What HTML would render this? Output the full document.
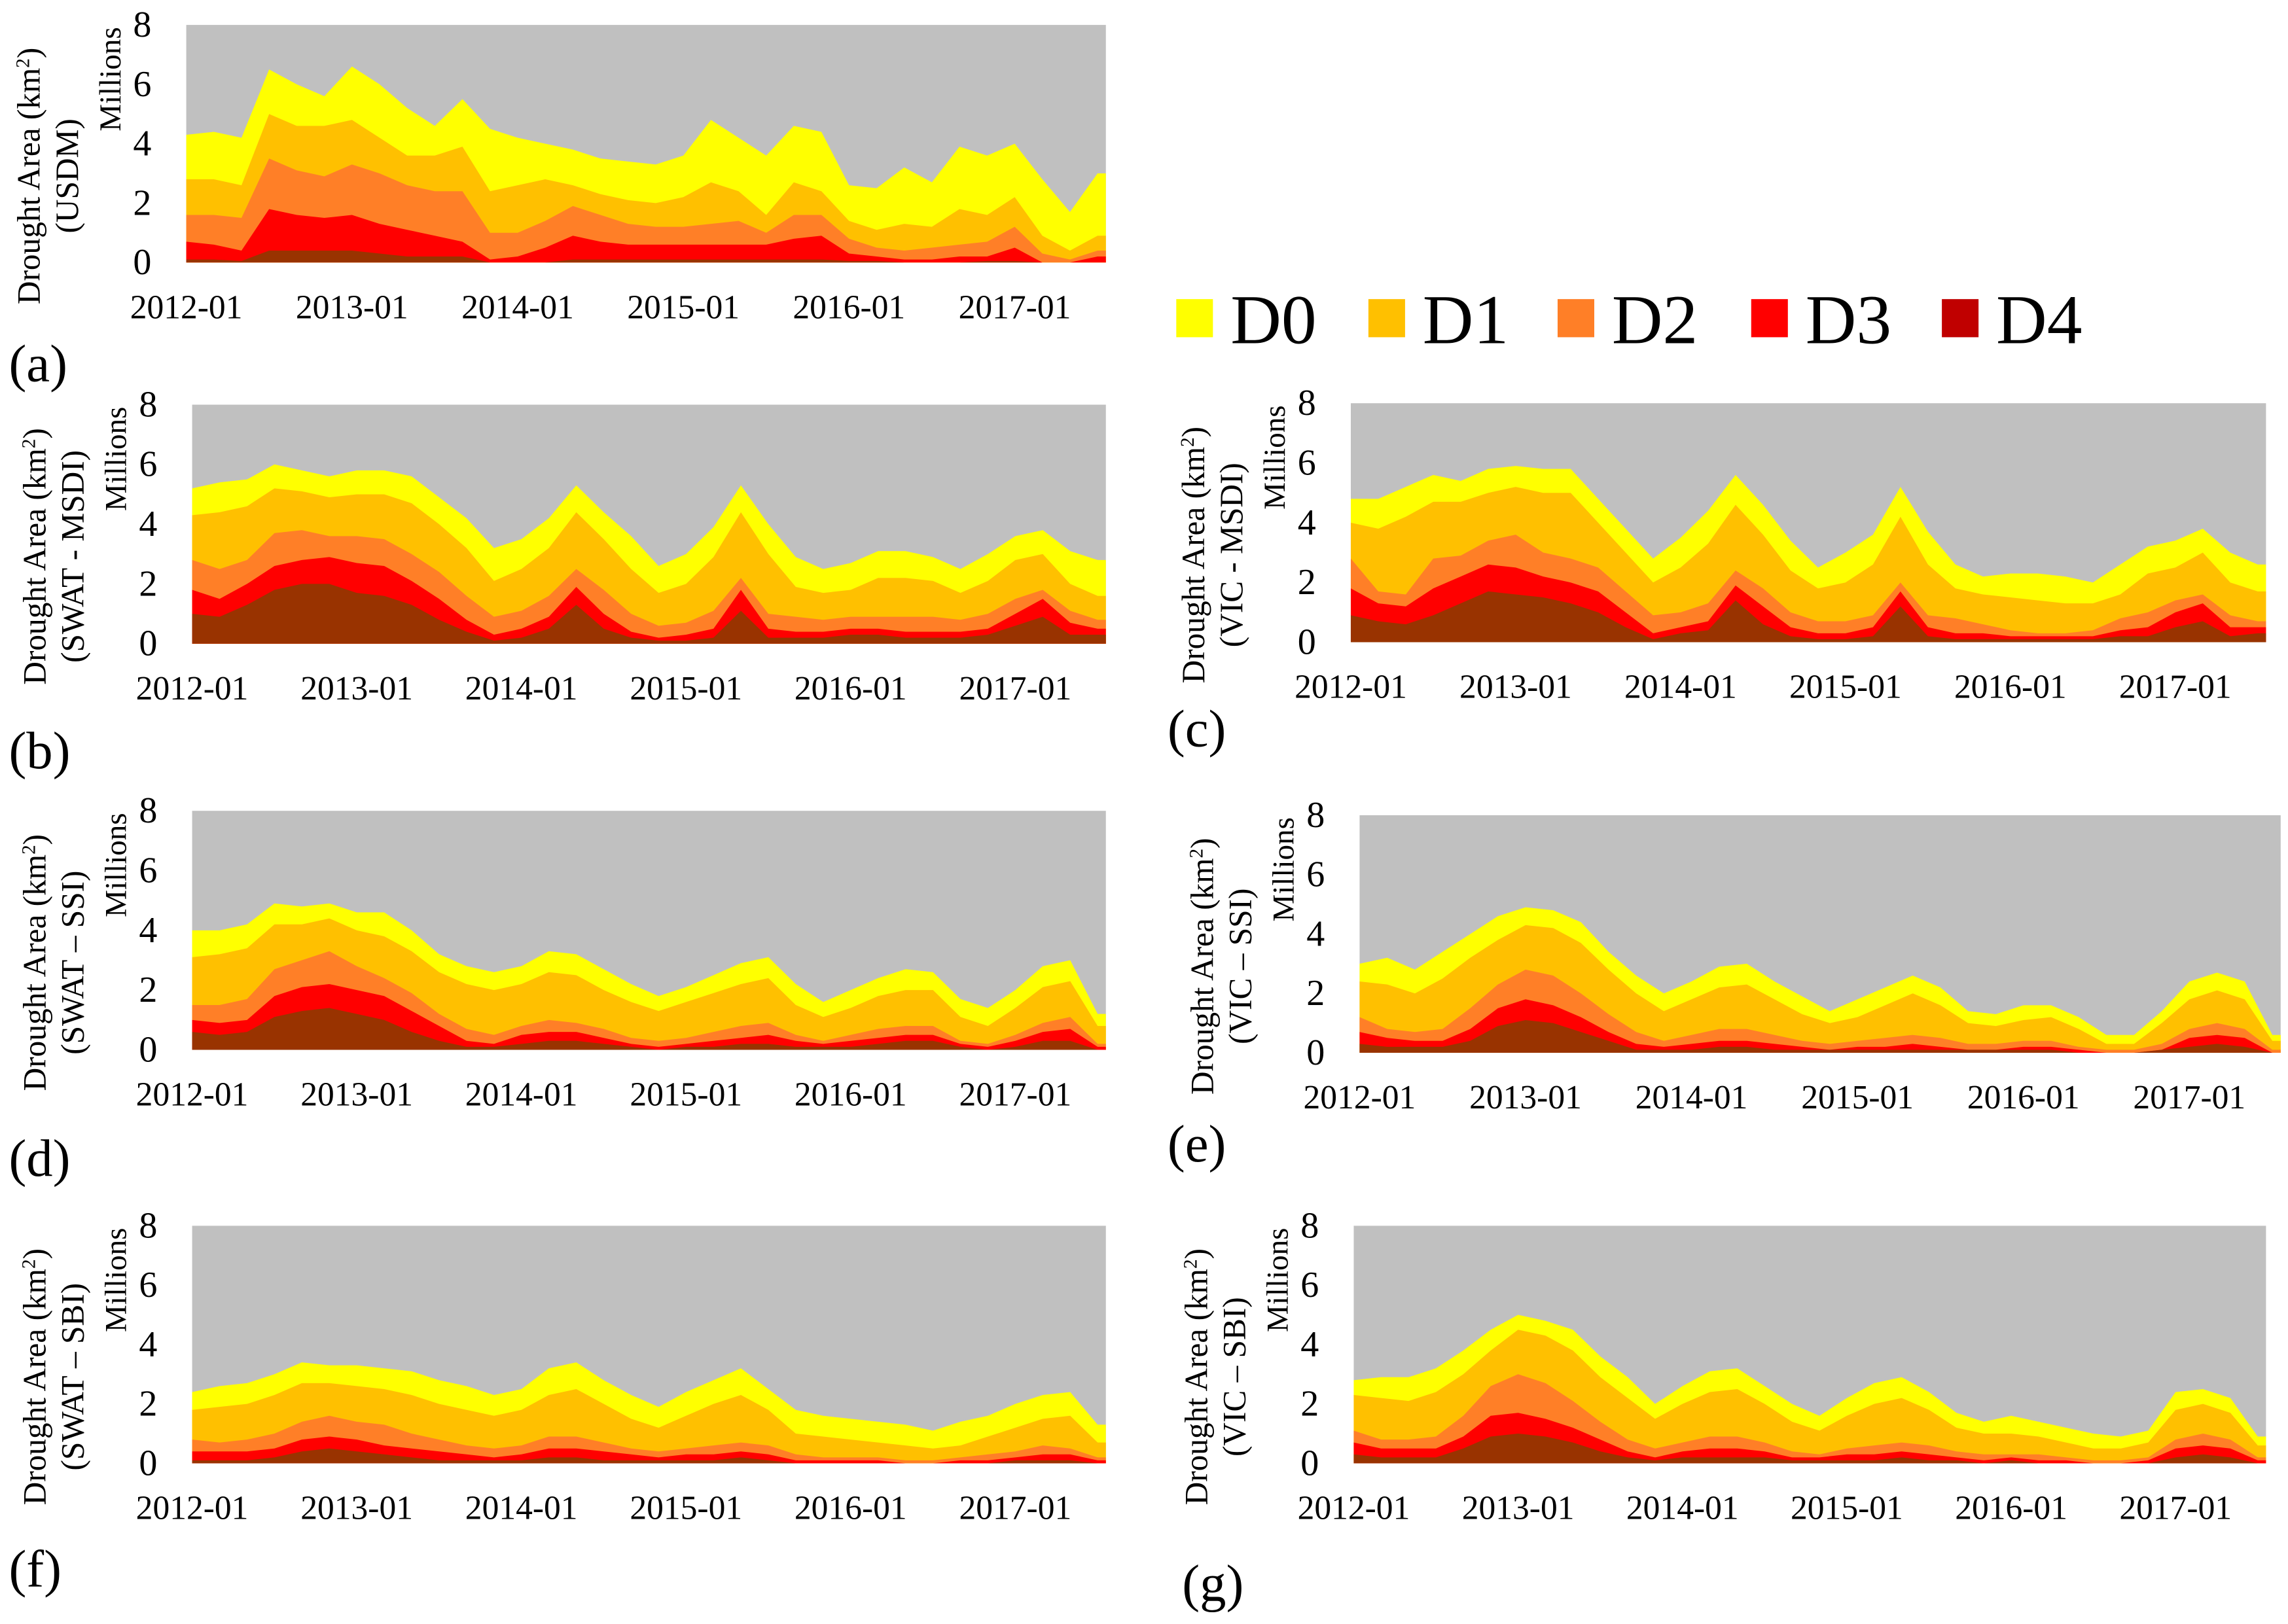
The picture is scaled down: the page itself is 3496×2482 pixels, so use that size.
<!DOCTYPE html>
<html><head><meta charset="utf-8"><style>
html,body{margin:0;padding:0;background:#fff;}
svg{display:block;}
text{font-family:"Liberation Serif",serif;fill:#000;}
</style></head><body>
<svg id="fig" width="3496" height="2482" viewBox="0 0 1560 1107.6" preserveAspectRatio="none" xmlns="http://www.w3.org/2000/svg">
<g id="legend"></g>
</svg>
<script>
// month offsets from 2012-01 (every 2 months)
const months = [0,2,4,6,8,10,12,14,16,18,20,22,24,26,28,30,32,34,36,38,40,42,44,46,48,50,52,54,56,58,60,62,64,66];
const xTickLabels = ["2012-01","2013-01","2014-01","2015-01","2016-01","2017-01"];
const xTickMonths = [0,12,24,36,48,60];
const yTicks = [0,2,4,6,8];
const categories = ["D0","D1","D2","D3","D4"];

// (a) USDM  cumulative area (millions km2) in category or worse
const a_D0=[4.3,4.4,4.2,6.5,6.0,5.6,6.6,6.0,5.2,4.6,5.5,4.5,4.2,4.0,3.8,3.5,3.4,3.3,3.6,4.8,4.2,3.6,4.6,4.4,2.6,2.5,3.2,2.7,3.9,3.6,4.0,2.8,1.7,3.0];
const a_D1=[2.8,2.8,2.6,5.0,4.6,4.6,4.8,4.2,3.6,3.6,3.9,2.4,2.6,2.8,2.6,2.3,2.1,2.0,2.2,2.7,2.4,1.6,2.7,2.4,1.4,1.1,1.3,1.2,1.8,1.6,2.2,0.9,0.4,0.9];
const a_D2=[1.6,1.6,1.5,3.5,3.1,2.9,3.3,3.0,2.6,2.4,2.4,1.0,1.0,1.4,1.9,1.6,1.3,1.2,1.2,1.3,1.4,1.0,1.6,1.6,0.8,0.5,0.4,0.5,0.6,0.7,1.2,0.3,0.1,0.4];
const a_D3=[0.7,0.6,0.4,1.8,1.6,1.5,1.6,1.3,1.1,0.9,0.7,0.1,0.2,0.5,0.9,0.7,0.6,0.6,0.6,0.6,0.6,0.6,0.8,0.9,0.3,0.2,0.1,0.1,0.2,0.2,0.5,0.0,0.0,0.2];
const a_D4=[0.1,0.1,0.05,0.4,0.4,0.4,0.4,0.3,0.2,0.2,0.2,0.0,0.0,0.0,0.1,0.1,0.1,0.1,0.1,0.1,0.1,0.1,0.1,0.1,0.05,0.05,0,0,0,0.05,0.05,0,0,0];
// (b) SWAT-MSDI
const b_D0=[5.2,5.4,5.5,6.0,5.8,5.6,5.8,5.8,5.6,4.9,4.2,3.2,3.5,4.2,5.3,4.4,3.6,2.6,3.0,3.9,5.3,4.0,2.9,2.5,2.7,3.1,3.1,2.9,2.5,3.0,3.6,3.8,3.1,2.8];
const b_D1=[4.3,4.4,4.6,5.2,5.1,4.9,5.0,5.0,4.7,4.0,3.2,2.1,2.5,3.2,4.4,3.5,2.5,1.7,2.0,2.9,4.4,3.0,1.9,1.7,1.8,2.2,2.2,2.1,1.7,2.1,2.8,3.0,2.0,1.6];
const b_D2=[2.8,2.5,2.8,3.7,3.8,3.6,3.6,3.5,3.0,2.4,1.6,0.9,1.1,1.6,2.5,1.8,1.0,0.6,0.7,1.1,2.2,1.0,0.9,0.8,0.9,0.9,0.9,0.9,0.8,1.0,1.5,1.8,1.1,0.8];
const b_D3=[1.8,1.5,2.0,2.6,2.8,2.9,2.7,2.6,2.1,1.5,0.8,0.3,0.5,0.9,1.9,1.0,0.4,0.2,0.3,0.5,1.8,0.5,0.4,0.4,0.5,0.5,0.4,0.4,0.4,0.5,1.0,1.5,0.7,0.5];
const b_D4=[1.0,0.9,1.3,1.8,2.0,2.0,1.7,1.6,1.3,0.8,0.4,0.1,0.2,0.5,1.3,0.5,0.2,0.1,0.1,0.2,1.1,0.2,0.2,0.2,0.3,0.3,0.2,0.2,0.2,0.3,0.6,0.9,0.3,0.3];
// (c) VIC-MSDI
const c_D0=[4.8,4.8,5.2,5.6,5.4,5.8,5.9,5.8,5.8,4.8,3.8,2.8,3.5,4.4,5.6,4.6,3.4,2.5,3.0,3.6,5.2,3.7,2.6,2.2,2.3,2.3,2.2,2.0,2.6,3.2,3.4,3.8,3.0,2.6];
const c_D1=[4.0,3.8,4.2,4.7,4.7,5.0,5.2,5.0,5.0,4.0,3.0,2.0,2.5,3.3,4.6,3.6,2.4,1.8,2.0,2.6,4.2,2.6,1.8,1.6,1.5,1.4,1.3,1.3,1.6,2.3,2.5,3.0,2.0,1.7];
const c_D2=[2.8,1.7,1.6,2.8,2.9,3.4,3.6,3.0,2.8,2.5,1.7,0.9,1.0,1.3,2.4,1.8,1.0,0.7,0.7,0.9,2.0,0.9,0.8,0.6,0.4,0.3,0.3,0.4,0.8,1.0,1.4,1.6,0.9,0.7];
const c_D3=[1.8,1.3,1.2,1.8,2.2,2.6,2.5,2.2,2.0,1.7,1.0,0.3,0.5,0.7,1.9,1.2,0.5,0.3,0.3,0.5,1.7,0.5,0.3,0.3,0.2,0.2,0.2,0.2,0.4,0.5,1.0,1.3,0.5,0.5];
const c_D4=[0.9,0.7,0.6,0.9,1.3,1.7,1.6,1.5,1.3,1.0,0.5,0.1,0.3,0.4,1.4,0.6,0.2,0.1,0.1,0.2,1.2,0.2,0.1,0.1,0.1,0.1,0.1,0.1,0.2,0.2,0.5,0.7,0.2,0.3];
// (d) SWAT-SSI
const d_D0=[4.0,4.0,4.2,4.9,4.8,4.9,4.6,4.6,4.0,3.2,2.8,2.6,2.8,3.3,3.2,2.7,2.2,1.8,2.1,2.5,2.9,3.1,2.2,1.6,2.0,2.4,2.7,2.6,1.7,1.4,2.0,2.8,3.0,1.2];
const d_D1=[3.1,3.2,3.4,4.2,4.2,4.4,4.0,3.8,3.3,2.6,2.2,2.0,2.2,2.6,2.5,2.0,1.6,1.3,1.6,1.9,2.2,2.4,1.5,1.1,1.4,1.8,2.0,2.0,1.1,0.8,1.4,2.1,2.3,0.8];
const d_D2=[1.5,1.5,1.7,2.7,3.0,3.3,2.8,2.4,1.9,1.2,0.7,0.5,0.8,1.0,0.9,0.7,0.4,0.3,0.4,0.6,0.8,0.9,0.5,0.3,0.5,0.7,0.8,0.8,0.3,0.2,0.5,0.9,1.1,0.2];
const d_D3=[1.0,0.9,1.0,1.8,2.1,2.2,2.0,1.8,1.3,0.8,0.3,0.2,0.5,0.6,0.6,0.4,0.2,0.1,0.2,0.3,0.4,0.5,0.3,0.2,0.3,0.4,0.5,0.5,0.2,0.1,0.3,0.6,0.7,0.1];
const d_D4=[0.6,0.5,0.6,1.1,1.3,1.4,1.2,1.0,0.6,0.3,0.1,0.1,0.2,0.3,0.3,0.2,0.1,0.0,0.1,0.1,0.2,0.2,0.1,0.1,0.1,0.2,0.3,0.3,0.1,0.0,0.1,0.3,0.3,0.0];
// (e) VIC-SSI
const e_D0=[3.0,3.2,2.8,3.4,4.0,4.6,4.9,4.8,4.4,3.4,2.6,2.0,2.4,2.9,3.0,2.4,1.9,1.4,1.8,2.2,2.6,2.2,1.4,1.3,1.6,1.6,1.2,0.6,0.6,1.4,2.4,2.7,2.4,0.6];
const e_D1=[2.4,2.3,2.0,2.5,3.2,3.8,4.3,4.2,3.7,2.8,2.0,1.4,1.8,2.2,2.3,1.8,1.3,1.0,1.2,1.6,2.0,1.6,1.0,0.9,1.1,1.2,0.8,0.3,0.3,1.0,1.8,2.1,1.8,0.4];
const e_D2=[1.2,0.8,0.7,0.8,1.5,2.3,2.8,2.6,2.0,1.3,0.7,0.4,0.6,0.8,0.8,0.6,0.4,0.3,0.4,0.5,0.6,0.5,0.3,0.3,0.4,0.4,0.2,0.1,0.1,0.3,0.8,1.0,0.8,0.1];
const e_D3=[0.7,0.5,0.4,0.4,0.8,1.5,1.8,1.6,1.2,0.7,0.3,0.2,0.3,0.4,0.4,0.3,0.2,0.1,0.2,0.2,0.3,0.2,0.1,0.1,0.2,0.2,0.1,0,0,0.1,0.5,0.6,0.5,0.0];
const e_D4=[0.3,0.2,0.2,0.2,0.4,0.9,1.1,1.0,0.7,0.4,0.1,0.1,0.1,0.2,0.2,0.1,0.1,0.1,0.1,0.1,0.1,0.1,0.1,0.1,0.1,0.1,0,0,0,0.1,0.2,0.3,0.2,0];
// (f) SWAT-SBI
const f_D0=[2.4,2.6,2.7,3.0,3.4,3.3,3.3,3.2,3.1,2.8,2.6,2.3,2.5,3.2,3.4,2.8,2.3,1.9,2.4,2.8,3.2,2.5,1.8,1.6,1.5,1.4,1.3,1.1,1.4,1.6,2.0,2.3,2.4,1.3];
const f_D1=[1.8,1.9,2.0,2.3,2.7,2.7,2.6,2.5,2.3,2.0,1.8,1.6,1.8,2.3,2.5,2.0,1.5,1.2,1.6,2.0,2.3,1.8,1.0,0.9,0.8,0.7,0.6,0.5,0.6,0.9,1.2,1.5,1.6,0.7];
const f_D2=[0.8,0.7,0.8,1.0,1.4,1.6,1.4,1.3,1.0,0.8,0.6,0.5,0.6,0.9,0.9,0.7,0.5,0.4,0.5,0.6,0.7,0.6,0.3,0.2,0.2,0.2,0.1,0.1,0.2,0.3,0.4,0.6,0.5,0.2];
const f_D3=[0.4,0.4,0.4,0.5,0.8,0.9,0.8,0.6,0.5,0.4,0.3,0.2,0.3,0.5,0.5,0.4,0.3,0.2,0.3,0.3,0.4,0.3,0.1,0.1,0.1,0.1,0,0,0.1,0.1,0.2,0.3,0.3,0.1];
const f_D4=[0.1,0.1,0.1,0.2,0.4,0.5,0.4,0.3,0.2,0.1,0.1,0.1,0.1,0.2,0.2,0.1,0.1,0.1,0.1,0.1,0.2,0.1,0,0,0,0,0,0,0,0,0.1,0.1,0.1,0];
// (g) VIC-SBI
const g_D0=[2.8,2.9,2.9,3.2,3.8,4.5,5.0,4.8,4.5,3.6,2.9,2.0,2.6,3.1,3.2,2.6,2.0,1.6,2.2,2.7,2.9,2.4,1.7,1.4,1.6,1.4,1.2,1.0,0.9,1.1,2.4,2.5,2.2,0.9];
const g_D1=[2.3,2.2,2.1,2.4,3.0,3.8,4.5,4.3,3.8,2.9,2.2,1.5,2.0,2.4,2.5,2.0,1.4,1.1,1.6,2.0,2.2,1.8,1.2,1.0,1.0,0.9,0.7,0.5,0.5,0.7,1.8,2.0,1.7,0.6];
const g_D2=[1.1,0.8,0.8,0.9,1.6,2.6,3.0,2.7,2.1,1.4,0.8,0.5,0.7,0.9,0.9,0.7,0.4,0.3,0.5,0.6,0.7,0.6,0.4,0.3,0.3,0.3,0.2,0.1,0.1,0.2,0.8,1.0,0.8,0.2];
const g_D3=[0.7,0.5,0.5,0.5,0.9,1.6,1.7,1.5,1.2,0.8,0.4,0.2,0.4,0.5,0.5,0.4,0.2,0.2,0.3,0.3,0.4,0.3,0.2,0.1,0.2,0.1,0.1,0,0,0.1,0.5,0.6,0.5,0.1];
const g_D4=[0.3,0.2,0.2,0.2,0.5,0.9,1.0,0.9,0.7,0.4,0.2,0.1,0.2,0.2,0.2,0.2,0.1,0.1,0.1,0.1,0.2,0.1,0.1,0,0.1,0,0,0,0,0,0.2,0.3,0.2,0];

const NS="http://www.w3.org/2000/svg";
const svg=document.getElementById('fig');
const fills=["#ffff00","#ffc000","#ff7f27","#ff0000","#993300"];
const legendFills=["#ffff00","#ffc000","#ff7f27","#ff0000","#c00000"];
function mk(tag,attrs,parent){const e=document.createElementNS(NS,tag);for(const k in attrs)e.setAttribute(k,attrs[k]);(parent||svg).appendChild(e);return e;}

const panels=[
 {id:"a",name:"USDM",L:127,R:754,T:17,B:179,series:[a_D0,a_D1,a_D2,a_D3,a_D4],lx:6,ly:260},
 {id:"b",name:"SWAT - MSDI",L:131,R:754,T:276,B:439,series:[b_D0,b_D1,b_D2,b_D3,b_D4],lx:6,ly:524},
 {id:"c",name:"VIC - MSDI",L:921,R:1545,T:275,B:438,series:[c_D0,c_D1,c_D2,c_D3,c_D4],lx:796,ly:509},
 {id:"d",name:"SWAT – SSI",L:131,R:754,T:553,B:716,series:[d_D0,d_D1,d_D2,d_D3,d_D4],lx:6,ly:802},
 {id:"e",name:"VIC – SSI",L:927,R:1555,T:556,B:718,series:[e_D0,e_D1,e_D2,e_D3,e_D4],lx:796,ly:792},
 {id:"f",name:"SWAT – SBI",L:131,R:754,T:836,B:998,series:[f_D0,f_D1,f_D2,f_D3,f_D4],lx:6,ly:1082},
 {id:"g",name:"VIC – SBI",L:923,R:1545,T:836,B:998,series:[g_D0,g_D1,g_D2,g_D3,g_D4],lx:806,ly:1092}
];
const MMAX=66.6;
panels.forEach(p=>{
  const g=mk('g',{});
  
  
  const xs=m=>p.L+m/MMAX*(p.R-p.L);
  const ys=v=>p.B-v/8*(p.B-p.T);
  const bg=mk('rect',{x:p.L,y:p.T,width:p.R-p.L,height:p.B-p.T,fill:"#c0c0c0"},g);
  
  
  p.series.forEach((s,i)=>{
    let d="M"+xs(months[0])+","+ys(0);
    s.forEach((v,j)=>{d+=" L"+xs(months[j]).toFixed(2)+","+ys(v).toFixed(2);});
    d+=" L"+p.R+","+ys(s[s.length-1]).toFixed(2)+" L"+p.R+","+ys(0)+" Z";
    const path=mk('path',{d:d,fill:fills[i]},g);
    
    
  });
  yTicks.forEach(t=>{
    const tx=mk('text',{x:p.L-30,y:ys(t)+8,'font-size':25,'text-anchor':'middle'},g);
    tx.textContent=t;
    
    
  });
  xTickMonths.forEach((m,i)=>{
    const tx=mk('text',{x:xs(m),y:p.B+38,'font-size':23,'text-anchor':'middle'},g);
    tx.textContent=xTickLabels[i];
    
    
  });
  const cy=(p.T+p.B)/2+22;
  const t1=mk('text',{x:0,y:0,'font-size':22,'text-anchor':'middle',transform:`translate(${p.L-100},${cy}) rotate(-90)`},g);
  t1.innerHTML='Drought Area (km<tspan baseline-shift="super" font-size="13">2</tspan>)';
  
  
  const t2=mk('text',{x:0,y:0,'font-size':22,'text-anchor':'middle',transform:`translate(${p.L-74},${cy}) rotate(-90)`},g);
  t2.textContent='('+p.name+')';
  
  
  const t3=mk('text',{x:0,y:0,'font-size':21,'text-anchor':'middle',transform:`translate(${p.L-45},${p.T+37}) rotate(-90)`},g);
  t3.textContent='Millions';
  
  
  const pl=mk('text',{x:p.lx,y:p.ly,'font-size':36},g);
  pl.textContent='('+p.id+')';
  
  
});
const lg=document.getElementById('legend');
const legX=[802,933,1062,1194,1324];
categories.forEach((c,i)=>{
  const r=mk('rect',{x:legX[i],y:204,width:25,height:26,fill:legendFills[i]},lg);
  
  
  const t=mk('text',{x:legX[i]+37,y:234,'font-size':48},lg);
  t.textContent=c;
  
  
});
</script>
</body></html>
